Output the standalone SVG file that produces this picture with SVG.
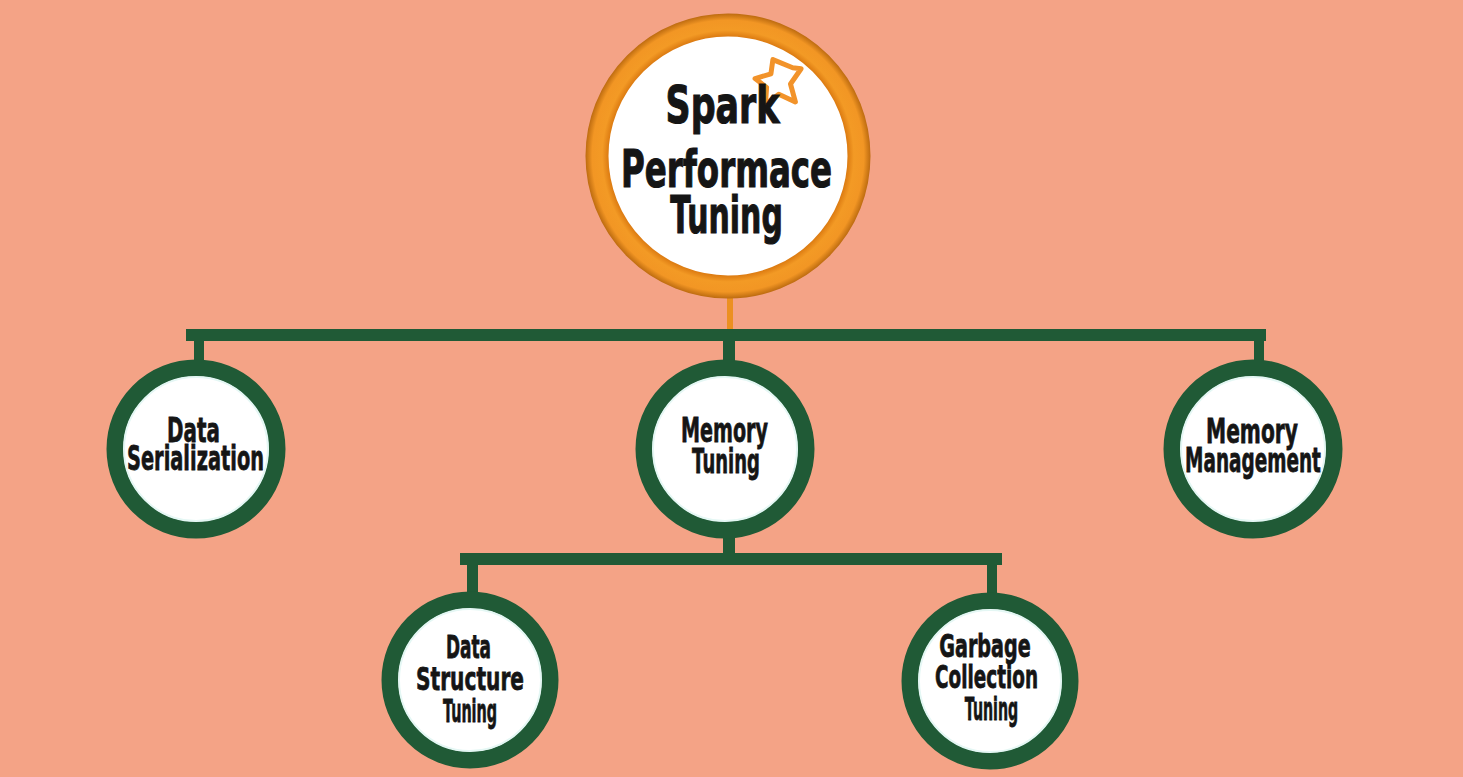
<svg xmlns="http://www.w3.org/2000/svg" width="1463" height="777" viewBox="0 0 1463 777">
  <defs>
    <radialGradient id="ringGrad" gradientUnits="userSpaceOnUse" cx="728" cy="156" r="143">
      <stop offset="0.83" stop-color="#D9770F"/>
      <stop offset="0.88" stop-color="#F39A25"/>
      <stop offset="0.95" stop-color="#F29624"/>
      <stop offset="1" stop-color="#B9680E"/>
    </radialGradient>
    <style>
      .bg { fill: #F4A386; }
      .bar { fill: #205A36; }
      .ring { fill: #FFFFFF; stroke: #205A36; stroke-width: 17; }
      .halo { fill: none; stroke: #E4F7F4; stroke-width: 2; }
      .lbl { font-family: "DejaVu Sans", "Liberation Sans", sans-serif; font-weight: bold; fill: #151515; stroke: #151515; stroke-width: 0.8; text-anchor: middle; }
      .l1 { font-size: 34px; }
      .l2 { font-size: 32px; }
      .top { font-size: 52px; stroke-width: 1.2; }
    </style>
  </defs>

  <rect class="bg" x="0" y="0" width="1463" height="777"/>

  <g id="connectors">
    <rect x="727" y="296" width="6" height="34" fill="#EC9022"/>
    <rect class="bar" x="186" y="329" width="1080" height="12"/>
    <rect class="bar" x="194" y="340" width="10" height="26"/>
    <rect class="bar" x="723" y="340" width="12" height="26"/>
    <rect class="bar" x="1254" y="340" width="10" height="26"/>
    <rect class="bar" x="723" y="534" width="12" height="22"/>
    <rect class="bar" x="460" y="553" width="542" height="12"/>
    <rect class="bar" x="467" y="564" width="11" height="30"/>
    <rect class="bar" x="987" y="564" width="10" height="30"/>
  </g>

  <g id="node-spark">
    <circle cx="728" cy="156" r="131" fill="#FFFFFF" stroke="url(#ringGrad)" stroke-width="23"/>
    <polygon points="772.9,59.6 792.7,67.8 801.1,68.8 790.5,84.0 795.4,101.9 778.8,94.2 765.4,104.4 766.6,87.4 755.1,78.6 770.9,73.8" fill="#FFFFFF" stroke="#F2932A" stroke-width="5" stroke-linejoin="round"/>
    <text class="lbl top" transform="translate(722.5,123) scale(0.67,1)">Spark</text>
    <text class="lbl top" transform="translate(726.5,187) scale(0.624,1)">Performace</text>
    <text class="lbl top" transform="translate(726.5,233) scale(0.575,1)">Tuning</text>
  </g>

  <g id="node-data-serialization">
    <circle class="ring" cx="196" cy="449" r="81"/>
    <circle class="halo" cx="196" cy="449" r="72"/>
    <text class="lbl l1" transform="translate(193.5,442) scale(0.586,1)">Data</text>
    <text class="lbl l1" transform="translate(195.5,470) scale(0.57,1)">Serialization</text>
  </g>

  <g id="node-memory-tuning">
    <circle class="ring" cx="725" cy="449" r="81"/>
    <circle class="halo" cx="725" cy="449" r="72"/>
    <text class="lbl l1" transform="translate(724.5,442) scale(0.563,1)">Memory</text>
    <text class="lbl l1" transform="translate(726,473) scale(0.53,1)">Tuning</text>
  </g>

  <g id="node-memory-management">
    <circle class="ring" cx="1253" cy="449" r="81"/>
    <circle class="halo" cx="1253" cy="449" r="72"/>
    <text class="lbl l1" transform="translate(1252,443) scale(0.595,1)">Memory</text>
    <text class="lbl l1" transform="translate(1253,472) scale(0.543,1)">Management</text>
  </g>

  <g id="node-data-structure-tuning">
    <circle class="ring" cx="470" cy="680" r="80"/>
    <circle class="halo" cx="470" cy="680" r="71"/>
    <text class="lbl l2" transform="translate(468.5,658) scale(0.53,1)">Data</text>
    <text class="lbl l2" transform="translate(470,690) scale(0.63,1)">Structure</text>
    <text class="lbl l2" transform="translate(470,722) scale(0.45,1)">Tuning</text>
  </g>

  <g id="node-garbage-collection-tuning">
    <circle class="ring" cx="990" cy="681" r="80"/>
    <circle class="halo" cx="990" cy="681" r="71"/>
    <text class="lbl l2" transform="translate(985,657) scale(0.6,1)">Garbage</text>
    <text class="lbl l2" transform="translate(986.5,688) scale(0.575,1)">Collection</text>
    <text class="lbl l2" transform="translate(991.5,720) scale(0.443,1)">Tuning</text>
  </g>
</svg>
